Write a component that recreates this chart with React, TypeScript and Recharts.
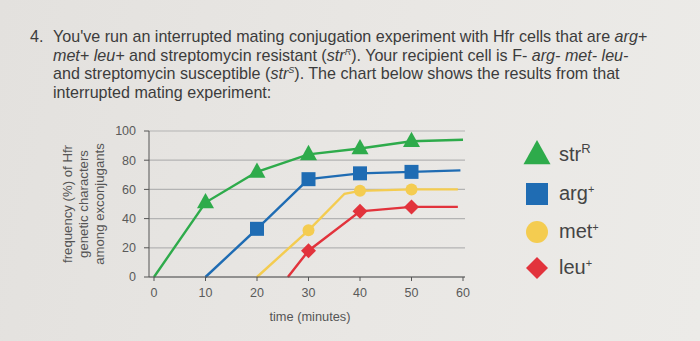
import React from 'react';
import { ComposedChart, Line, XAxis, YAxis, CartesianGrid } from 'recharts';

// time (minutes) and frequency (%) per genetic character
const strTimes = [0, 10, 20, 30, 40, 50, 60];
const strValues = [0, 51, 72, 84, 88, 93, 94];
const argTimes = [10, 20, 30, 40, 50, 59.5];
const argValues = [0, 33, 67, 71, 72, 73];
const metTimes = [20, 30, 37, 40, 50, 59];
const metValues = [0, 32, 57, 59, 60, 60];
const leuTimes = [26, 30, 40, 50, 59];
const leuValues = [0, 18, 45, 48, 48];

const xTicks = [0, 10, 20, 30, 40, 50, 60];
const yTicks = [0, 20, 40, 60, 80, 100];

const legendNames = ['str', 'arg', 'met', 'leu'];
const legendSups = ['R', '+', '+', '+'];

const GREEN = '#2eab4b';
const BLUE = '#1f6cb3';
const YELLOW = '#f4cc50';
const RED = '#e2333c';

const FONT = '"Liberation Sans", Arial, sans-serif';

const build = (ts: number[], vs: number[]) => ts.map((t, i) => ({ t, v: vs[i] }));

type Shape = 'tri' | 'sq' | 'circ' | 'dia';

const Marker = ({ shape, cx, cy, color, s }: { shape: Shape; cx: number; cy: number; color: string; s: number }) => {
  if (shape === 'tri') {
    const h = s * 0.9;
    return <polygon points={`${cx},${cy - h * 0.62} ${cx - s / 2},${cy + h * 0.38} ${cx + s / 2},${cy + h * 0.38}`} fill={color} />;
  }
  if (shape === 'sq') {
    return <rect x={cx - s / 2} y={cy - s / 2} width={s} height={s} fill={color} />;
  }
  if (shape === 'circ') {
    return <circle cx={cx} cy={cy} r={s / 2} fill={color} />;
  }
  const r = s / 2;
  return <polygon points={`${cx},${cy - r} ${cx + r},${cy} ${cx},${cy + r} ${cx - r},${cy}`} fill={color} />;
};

const makeDot = (shape: Shape, color: string, size: number, n: number) => (props: any) => {
  const { cx, cy, index, payload } = props;
  const show = index > 0 && index < n - 1 && payload.t % 10 === 0;
  if (!show || cx == null || cy == null) return <g key={`d-${index}`} />;
  return (
    <g key={`d-${index}`}>
      <Marker shape={shape} cx={cx} cy={cy} color={color} s={size} />
    </g>
  );
};

const series = [
  { key: 'str', data: build(strTimes, strValues), color: GREEN, shape: 'tri' as Shape, size: 17 },
  { key: 'arg', data: build(argTimes, argValues), color: BLUE, shape: 'sq' as Shape, size: 14 },
  { key: 'met', data: build(metTimes, metValues), color: YELLOW, shape: 'circ' as Shape, size: 12 },
  { key: 'leu', data: build(leuTimes, leuValues), color: RED, shape: 'dia' as Shape, size: 15 },
];

const legendShapes: Shape[] = ['tri', 'sq', 'circ', 'dia'];
const legendColors = [GREEN, BLUE, YELLOW, RED];
const legendY = [155, 194, 232, 268];

const textStyle: React.CSSProperties = {
  position: 'absolute',
  left: 0,
  top: 0,
  fontFamily: FONT,
  fontSize: 16.1,
  lineHeight: '18.5px',
  color: '#3c3c3c',
};

const supStyle: React.CSSProperties = {
  fontSize: 9,
  lineHeight: 0,
  verticalAlign: 0,
  position: 'relative',
  top: -6,
};

const line: React.CSSProperties = { height: 18.5, whiteSpace: 'nowrap' };

export default function App() {
  return (
    <div
      style={{
        position: 'absolute',
        left: 0,
        top: 0,
        width: 700,
        height: 341,
        overflow: 'hidden',
        background: 'linear-gradient(100deg, #e3e1de 0%, #e9e7e4 55%, #ecebe8 100%)',
      }}
    >
      <div style={{ ...textStyle, left: 30, top: 27 }}>4.</div>
      <div style={{ ...textStyle, left: 53, top: 27, width: 645 }}>
        <div style={line}>
          You've run an interrupted mating conjugation experiment with Hfr cells that are <i>arg+</i>
        </div>
        <div style={line}>
          <i>met+ leu+</i> and streptomycin resistant (<i>str<span style={supStyle}>R</span></i>). Your recipient cell is F- <i>arg- met- leu-</i>
        </div>
        <div style={line}>
          and streptomycin susceptible (<i>str<span style={supStyle}>S</span></i>). The chart below shows the results from that
        </div>
        <div style={line}>interrupted mating experiment:</div>
      </div>

      <div style={{ position: 'absolute', left: 0, top: 0 }}>
        <ComposedChart
          width={700}
          height={341}
          margin={{ top: 131, left: 109, right: 235, bottom: 34 }}
        >
          <CartesianGrid horizontal={true} vertical={false} stroke="#b3b3b3" strokeWidth={1.2} />
          <XAxis
            type="number"
            dataKey="t"
            domain={[0, 60]}
            ticks={xTicks}
            allowDuplicatedCategory={false}
            padding={{ left: 5, right: 2 }}
            height={30}
            tickSize={4}
            tickMargin={7}
            stroke="#555"
            tick={{ fill: '#5a5a5a', fontSize: 12.5, fontFamily: FONT }}
          />
          <YAxis
            type="number"
            domain={[0, 100]}
            ticks={yTicks}
            width={40}
            tickSize={5}
            tickMargin={8}
            stroke="#555"
            tick={{ fill: '#5a5a5a', fontSize: 12.5, fontFamily: FONT }}
          />
          {series.map((s) => (
            <Line
              key={s.key}
              data={s.data}
              dataKey="v"
              type="linear"
              stroke={s.color}
              strokeWidth={2.4}
              dot={makeDot(s.shape, s.color, s.size, s.data.length)}
              activeDot={false}
              isAnimationActive={false}
            />
          ))}
        </ComposedChart>
      </div>

      <div
        style={{
          position: 'absolute',
          left: 310,
          top: 309,
          transform: 'translateX(-50%)',
          fontFamily: FONT,
          fontSize: 12.8,
          color: '#555',
          whiteSpace: 'nowrap',
        }}
      >
        time (minutes)
      </div>

      <div
        style={{
          position: 'absolute',
          left: 84,
          top: 204,
          transform: 'translate(-50%, -50%) rotate(-90deg)',
          fontFamily: FONT,
          fontSize: 13.2,
          lineHeight: '16px',
          color: '#555',
          textAlign: 'center',
          whiteSpace: 'nowrap',
        }}
      >
        <div>frequency (%) of Hfr</div>
        <div>genetic characters</div>
        <div>among exconjugants</div>
      </div>

      <svg style={{ position: 'absolute', left: 0, top: 0 }} width={700} height={341}>
        {legendNames.map((n, i) => (
          <Marker key={n} shape={legendShapes[i]} cx={537} cy={legendY[i]} color={legendColors[i]} s={i === 0 ? 27 : 22} />
        ))}
      </svg>
      {legendNames.map((n, i) => (
        <div
          key={n}
          style={{
            position: 'absolute',
            left: 559,
            top: legendY[i] - 13,
            fontFamily: FONT,
            fontSize: 20,
            lineHeight: '24px',
            color: '#444',
            whiteSpace: 'nowrap',
          }}
        >
          {n}
          <span
            style={{
              fontSize: i === 0 ? 13 : 11,
              lineHeight: 0,
              position: 'relative',
              top: i === 0 ? -8 : -7,
            }}
          >
            {legendSups[i]}
          </span>
        </div>
      ))}
    </div>
  );
}
